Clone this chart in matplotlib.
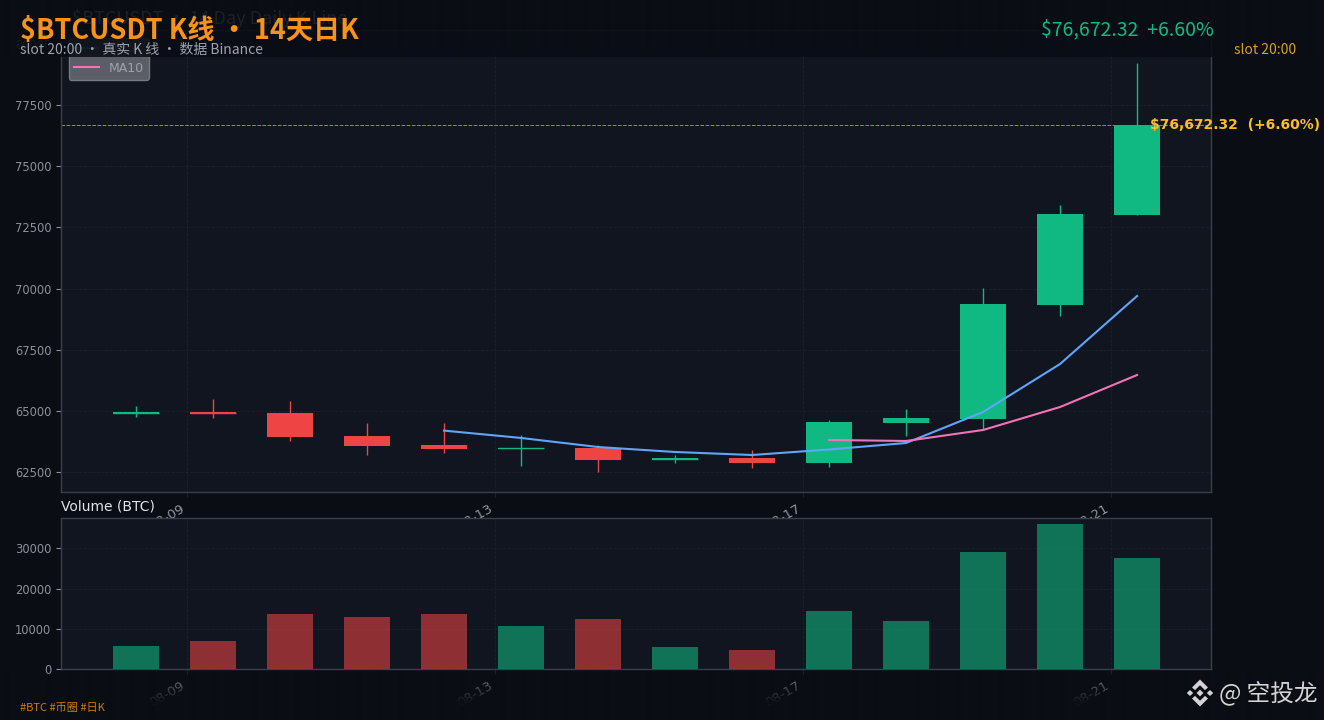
import numpy as np
import matplotlib
matplotlib.use("Agg")
import matplotlib.pyplot as plt
from matplotlib.patches import Rectangle, Polygon

# ---- data ----
days = list(range(14))
opens = [64900, 64970, 64930, 63990, 63620, 63470, 63500, 63010, 63090, 62890, 64520, 64680, 69340, 73010]
closes = [64970, 64900, 63950, 63580, 63460, 63490, 63010, 63090, 62890, 64560, 64720, 69380, 73050, 76672.32]
highs = [65210, 65500, 65420, 64530, 64530, 64030, 63620, 63210, 63410, 64640, 65090, 70030, 73420, 79200]
lows = [64765, 64724, 63790, 63215, 63300, 62770, 62520, 62880, 62680, 62720, 63990, 64230, 68890, 73010]
volumes = [5750, 7000, 13700, 12950, 13700, 10700, 12400, 5500, 4700, 14400, 11900, 29000, 36000, 27500]
ma5_days = [4, 5, 6, 7, 8, 9, 10, 11, 12, 13]
ma5 = [64210, 63910, 63540, 63337, 63214, 63439, 63704, 64969, 66929, 69704]
ma10_days = [9, 10, 11, 12, 13]
ma10 = [63827, 63786, 64235, 65173, 66480]
date_ticks = [0.66, 4.66, 8.66, 12.66]
date_labels = ["08-09", "08-13", "08-17", "08-21"]
price_ticks = [62500, 65000, 67500, 70000, 72500, 75000, 77500, 80000]
vol_ticks = [0, 10000, 20000, 30000]
last_price = 76672.32
last_pct = 6.60

# ---- style ----
W, H = 1324, 720
BG = "#0a0d14"
PANEL = "#111520"
SPINE = "#3a3f4d"
GREEN = "#10b981"
RED = "#ef4444"
CJK = ["Noto Sans CJK SC", "DejaVu Sans"]
XLIM = (-0.974, 13.96)


def ax_px(left, top, right, bottom, **kw):
    return fig.add_axes([left / W, 1 - bottom / H, (right - left) / W, (bottom - top) / H], **kw)


def style(ax):
    ax.set_facecolor(PANEL)
    for s in ax.spines.values():
        s.set_color(SPINE)
        s.set_linewidth(1.0)
    ax.set_xlim(*XLIM)
    ax.set_xticks(date_ticks)
    ax.set_xticklabels(date_labels, rotation=30, ha="right", rotation_mode="default")
    ax.tick_params(axis="y", colors="#8b909c", labelsize=8.3, length=3.5, width=0.8, pad=3.5)
    ax.tick_params(axis="x", colors="#1c2029", labelcolor="#9097a3", labelsize=9.5, length=3.5, width=0.8)
    ax.grid(True, color="#1e2330", linestyle="--", linewidth=0.6, alpha=0.8)
    ax.set_axisbelow(True)


fig = plt.figure(figsize=(W / 100, H / 100), dpi=100, facecolor=BG)

# ---- candlestick panel ----
ax = ax_px(61, 30, 1211, 492)
ax.set_zorder(1)
style(ax)
ax.set_ylim(61704, 80561)
ax.set_yticks(price_ticks)
for d, o, c, hi, lo in zip(days, opens, closes, highs, lows):
    col = GREEN if c >= o else RED
    ax.vlines(d, lo, hi, color=col, linewidth=1.0, zorder=2)
    ax.bar(d, abs(c - o), bottom=min(o, c), width=0.6, color=col, linewidth=0, zorder=3)
    if abs(c - o) < 100:
        ax.hlines((o + c) / 2, d - 0.3, d + 0.3, color=col, linewidth=1.0, zorder=3)
ax.plot(ma5_days, ma5, color="#60a5fa", linewidth=1.5, label="MA5", zorder=4)
ax.plot(ma10_days, ma10, color="#f472b6", linewidth=1.5, label="MA10", zorder=4)
ax.axhline(last_price, color="#f59e0b", linestyle="--", linewidth=0.7, alpha=0.8, zorder=1.5)
ax.annotate(f"${last_price:,.2f}  (+{last_pct:.2f}%)", xy=(13, last_price), xytext=(9.4, 0),
            textcoords="offset points", xycoords=("data", "data"), color="#fbbf24", fontsize=10,
            fontweight="bold", va="center", ha="left", annotation_clip=False, zorder=6).set_clip_on(False)
leg = ax.legend(loc="upper left", facecolor="#5b5e67", edgecolor="#777a82", framealpha=1,
                labelcolor="#9ea1a8", fontsize=9, handlelength=2.0, borderaxespad=0.6,
                bbox_to_anchor=(0, 1), fancybox=True)
leg.set_zorder(7)
ax.text(0.5, 1.01, "$BTCUSDT · 14 Day Daily K Line", transform=ax.transAxes, alpha=0)

# ---- volume panel ----
vx = ax_px(61, 517.5, 1211, 669)
vx.set_zorder(2)
style(vx)
vx.set_ylim(0, 37700)
vx.set_yticks(vol_ticks)
vol_colors = [GREEN if c >= o else RED for o, c in zip(opens, closes)]
vx.bar(days, volumes, width=0.6, color=vol_colors, alpha=0.57, linewidth=0, zorder=3)

# ---- overlay: header and footer bands, texts, logo ----
ov = fig.add_axes([0, 0, 1, 1], facecolor="none")
ov.set_zorder(5)
ov.set_xlim(0, W)
ov.set_ylim(H, 0)
ov.axis("off")
rgb = matplotlib.colors.to_rgb(BG)

top = np.zeros((57, 1, 4))
top[..., :3] = rgb
top[:, 0, 3] = np.linspace(0.97, 0.88, 57)
ov.imshow(top, extent=(0, W, 57, 0), aspect="auto", interpolation="bilinear", zorder=1)
foot = np.zeros((50, 1, 4))
foot[..., :3] = rgb
foot[:, 0, 3] = np.clip(np.linspace(0, 1.5, 50), 0, 0.97)
ov.imshow(foot, extent=(0, W, 720, 670), aspect="auto", interpolation="bilinear", zorder=1)
ov.set_xlim(0, W)
ov.set_ylim(H, 0)

ov.text(72, 18, "$BTCUSDT · 14 Day Daily K Line", color="#1b202b", fontsize=13, va="center", ha="left",
        family=CJK, zorder=2)
ov.text(20, 31, "$BTCUSDT K线 · 14天日K", color="#f7931a", fontsize=19.5, fontweight="bold", va="center",
        ha="left", family=CJK, zorder=3)
ov.text(20, 50, "slot 20:00 · 真实 K 线 · 数据 Binance", color="#9ca3af", fontsize=10, va="center", ha="left",
        family=CJK, zorder=3)
ov.text(1214, 30, f"${last_price:,.2f}  +{last_pct:.2f}%", color=GREEN, fontsize=14, fontweight="medium",
        va="center", ha="right", family=CJK, zorder=3)
ov.text(1296, 50, "slot 20:00", color="#d9a021", fontsize=10, va="center", ha="right", family=CJK, zorder=3)
ov.text(61, 506, "Volume (BTC)", color="#dfe2e8", fontsize=10, va="center", ha="left", zorder=3)
ov.text(20, 707.5, "#BTC #币圈 #日K", color="#c97f16", fontsize=8, va="center", ha="left", family=CJK, zorder=3)
ov.text(1219, 693, "@ 空投龙", color="#d4d4d4", fontsize=17, va="center", ha="left", family=CJK, zorder=3)

# Binance-style logo mark
cx, cy = 1200, 693
LOGO = "#d4d4d4"
shapes = [
    [(0, -3.4), (3.4, 0), (0, 3.4), (-3.4, 0)],
    [(-10, -3.0), (-13.2, 0), (-10, 3.0), (-6.8, 0)],
    [(10, -3.0), (13.2, 0), (10, 3.0), (6.8, 0)],
    [(0, -13.5), (8, -5.5), (5, -2.9), (0, -7.7), (-5, -2.9), (-8, -5.5)],
    [(0, 13.5), (8, 5.5), (5, 2.9), (0, 7.7), (-5, 2.9), (-8, 5.5)],
]
for s in shapes:
    ov.add_patch(Polygon([(cx + a, cy + b) for a, b in s], closed=True, facecolor=LOGO, edgecolor="none", zorder=3))

fig.savefig("out.png", dpi=100, facecolor=BG)
